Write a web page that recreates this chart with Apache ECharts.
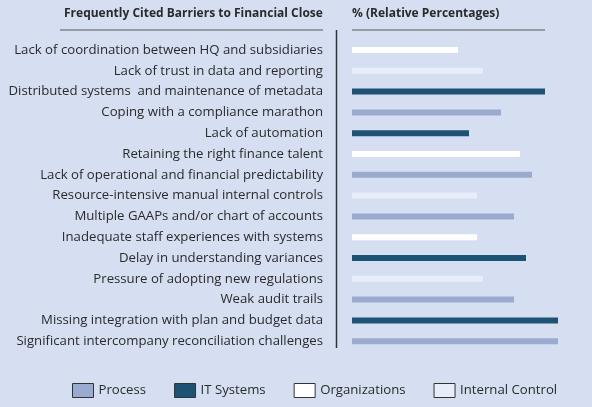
<!DOCTYPE html><html><head><meta charset="utf-8"><script src="https://cdn.jsdelivr.net/npm/echarts@6/dist/echarts.min.js"></script></head><body style="margin:0;background:#d6dff2"><div id="c" style="width:592px;height:407px"></div><script>
const categories=["Lack of coordination between HQ and subsidiaries","Lack of trust in data and reporting","Distributed systems  and maintenance of metadata","Coping with a compliance marathon","Lack of automation","Retaining the right finance talent","Lack of operational and financial predictability","Resource-intensive manual internal controls","Multiple GAAPs and/or chart of accounts","Inadequate staff experiences with systems","Delay in understanding variances","Pressure of adopting new regulations","Weak audit trails","Missing integration with plan and budget data","Significant intercompany reconciliation challenges"];
const values=[106,131,193,149,117,168,180,125,162,125,174,131,162,206,206];
const groups=["Organizations","Internal Control","IT Systems","Process","IT Systems","Organizations","Process","Internal Control","Process","Organizations","IT Systems","Internal Control","Process","IT Systems","Process"];
const seriesNames=["Process","IT Systems","Organizations","Internal Control"];
const colors={"Process":"#9aabcf","IT Systems":"#1d5274","Organizations":"#ffffff","Internal Control":"#e8eef9"};
const F='"Open Sans", sans-serif';
const ch=echarts.init(document.getElementById('c'));
ch.setOption({backgroundColor:'#d6dff2',animation:false,
grid:{left:352,top:39.6,width:206,height:312},
xAxis:{type:'value',min:0,max:206,show:false},
yAxis:{type:'category',inverse:true,data:categories,axisLine:{show:false},axisTick:{show:false},axisLabel:{margin:29,color:'#2a2a2a',fontSize:13.2,fontFamily:F}},
legend:{bottom:4,left:67,icon:'rect',itemWidth:21,itemHeight:14,itemGap:28,textStyle:{fontSize:13.2,fontFamily:F,color:'#2a2a2a'},data:seriesNames.map(n=>({name:n,itemStyle:{borderColor:'#333',borderWidth:1}}))},
series:seriesNames.map(n=>({name:n,type:'bar',stack:'a',barWidth:6,itemStyle:{color:colors[n]},data:values.map((v,i)=>groups[i]===n?v:'-')})),
graphic:[
{type:'text',left:64,top:8,style:{text:'Frequently Cited Barriers to Financial Close',font:'bold 12px '+F,fill:'#2a2a2a'}},
{type:'text',left:352,top:8,style:{text:'% (Relative Percentages)',font:'bold 12px '+F,fill:'#2a2a2a'}},
{type:'line',shape:{x1:60,y1:30,x2:323,y2:30},style:{stroke:'#555',lineWidth:1}},
{type:'line',shape:{x1:352,y1:30,x2:545,y2:30},style:{stroke:'#555',lineWidth:1}},
{type:'line',shape:{x1:336.5,y1:30,x2:336.5,y2:348},style:{stroke:'#333',lineWidth:1.5}}
]});
</script></body></html>
